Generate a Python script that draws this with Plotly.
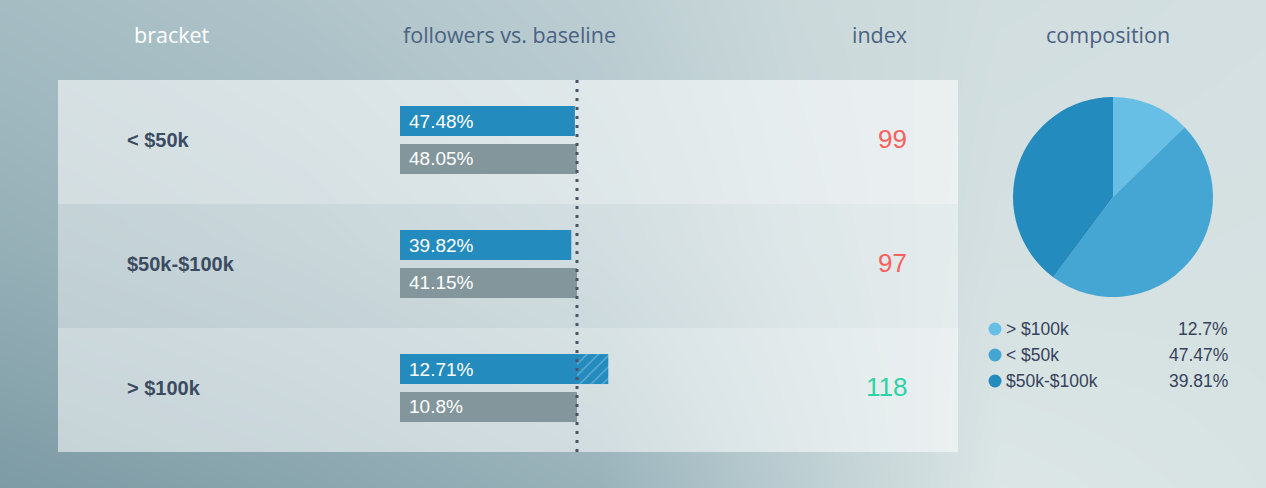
import plotly.graph_objects as go

# ---------------- data ----------------
brackets = ["< $50k", "$50k-$100k", "> $100k"]
followers_pct = [47.48, 39.82, 12.71]
baseline_pct = [48.05, 41.15, 10.8]

comp_labels = ["> $100k", "< $50k", "$50k-$100k"]
comp_pct = [12.7, 47.47, 39.81]
comp_colors = ["#67bfe6", "#45a6d3", "#238bbd"]

headers = ["bracket", "followers vs. baseline", "index", "composition"]

# ---------------- derived ----------------
W, H = 1266, 488
ratio = [f / b for f, b in zip(followers_pct, baseline_pct)]
index_vals = [round(100 * r) for r in ratio]
solid = [min(r, 1.0) for r in ratio]
excess = [max(r - 1.0, 0.0) for r in ratio]
base_norm = [b / b for b in baseline_pct]
rows = list(range(len(brackets)))

BLUE = "#238bbd"
GREY = "#82969c"
HEAD = "#4b6282"
LABEL = "#3b4b60"

# background gradient (styling only)
bg_x = [0, 300, 600, 800, 1000, 1266]
bg_y = [0, 244, 488]
bg_z = [
    [0.40, 0.50, 0.62, 0.76, 0.82, 0.84],
    [0.25, 0.36, 0.52, 0.72, 0.85, 0.86],
    [0.00, 0.12, 0.28, 0.62, 0.92, 0.88],
]

fig = go.Figure()

fig.add_trace(go.Heatmap(
    x=bg_x, y=bg_y, z=bg_z, zmin=0, zmax=1, zsmooth="best",
    colorscale=[[0, "rgb(125,155,165)"], [0.4, "rgb(165,188,195)"], [1, "rgb(228,236,235)"]],
    showscale=False, hoverinfo="skip", xaxis="x", yaxis="y",
))

# bars (x = value relative to baseline)
BW = 0.242
off_f, off_b = -0.169, 0.137
fig.add_trace(go.Bar(
    x=solid, y=[i + off_f for i in rows], orientation="h", width=BW,
    marker=dict(color=BLUE, line=dict(width=0)), xaxis="x2", yaxis="y2", hoverinfo="skip",
))
fig.add_trace(go.Bar(
    x=excess, base=base_norm, y=[i + off_f for i in rows], orientation="h", width=BW,
    marker=dict(color=BLUE, line=dict(width=0),
                pattern=dict(shape="/", size=8, solidity=0.15,
                             fgcolor="rgba(190,225,245,0.9)", bgcolor=BLUE)),
    xaxis="x2", yaxis="y2", hoverinfo="skip",
))
fig.add_trace(go.Bar(
    x=base_norm, y=[i + off_b for i in rows], orientation="h", width=BW,
    marker=dict(color=GREY, line=dict(width=0)), xaxis="x2", yaxis="y2", hoverinfo="skip",
))

# pie
fig.add_trace(go.Pie(
    labels=comp_labels, values=comp_pct, sort=False, direction="clockwise", rotation=0,
    marker=dict(colors=comp_colors, line=dict(width=0)), textinfo="none", hoverinfo="skip",
    domain=dict(x=[1013 / W, 1213 / W], y=[(H - 297) / H, (H - 97) / H]),
    showlegend=False,
))

# legend dots
fig.add_trace(go.Scatter(
    x=[0.04] * len(comp_labels), y=list(range(len(comp_labels))), mode="markers",
    marker=dict(size=13, color=comp_colors), xaxis="x3", yaxis="y3", hoverinfo="skip",
))

X2_RANGE = [(58 - 400) / 177, (958 - 400) / 177]

shapes = []
row_alpha = [0.56, 0.42, 0.54]
for i in rows:
    shapes.append(dict(type="rect", xref="x2", yref="y2", x0=X2_RANGE[0], x1=X2_RANGE[1],
                       y0=i - 0.5, y1=i + 0.5, fillcolor=f"rgba(255,255,255,{row_alpha[i % 3]})",
                       line=dict(width=0), layer="below"))
shapes.append(dict(type="line", xref="x2", yref="y2", x0=1, x1=1, y0=-0.5, y1=len(rows) - 0.5,
                   line=dict(color="#4a5466", width=3, dash="3px,6px"), layer="above"))

ann = []
head_x = [172, 509, 879, 1108]
for t, hx in zip(headers, head_x):
    ann.append(dict(text=t, x=hx / W, y=(H - 34) / H, xref="paper", yref="paper",
                    xanchor="center", yanchor="middle", showarrow=False,
                    font=dict(family="Open Sans", size=21.5,
                              color="white" if t == "bracket" else HEAD)))
for i, name in enumerate(brackets):
    ann.append(dict(text=f"<b>{name}</b>", x=125 / W, y=i, xref="paper", yref="y2",
                    xanchor="left", yanchor="middle", yshift=2, showarrow=False,
                    font=dict(family="Liberation Sans", size=20, color=LABEL)))
    ann.append(dict(text=f"{followers_pct[i]}%", x=0, y=i + off_f, xref="x2", yref="y2",
                    xanchor="left", yanchor="middle", xshift=7, showarrow=False,
                    font=dict(family="Liberation Sans", size=19, color="white")))
    ann.append(dict(text=f"{baseline_pct[i]}%", x=0, y=i + off_b, xref="x2", yref="y2",
                    xanchor="left", yanchor="middle", xshift=7, showarrow=False,
                    font=dict(family="Liberation Sans", size=19, color="white")))
    ann.append(dict(text=str(index_vals[i]), x=909 / W, y=i, xref="paper", yref="y2",
                    xanchor="right", yanchor="middle", yshift=3, showarrow=False,
                    font=dict(family="Liberation Sans", size=26,
                              color="#f9605c" if index_vals[i] < 100 else "#2dd3a4")))
for j, (lab, p) in enumerate(zip(comp_labels, comp_pct)):
    ann.append(dict(text=lab, x=0.076, y=j, xref="x3", yref="y3", xanchor="left",
                    yanchor="middle", showarrow=False,
                    font=dict(family="Liberation Sans", size=17.5, color="#36425a")))
    ann.append(dict(text=f"{p}%", x=0.98, y=j, xref="x3", yref="y3", xanchor="right",
                    yanchor="middle", showarrow=False,
                    font=dict(family="Liberation Sans", size=17.5, color="#36425a")))

hidden = dict(visible=False, showgrid=False, zeroline=False, fixedrange=True)
fig.update_layout(
    width=W, height=H, margin=dict(l=0, r=0, t=0, b=0),
    paper_bgcolor="rgb(190,205,208)", plot_bgcolor="rgba(0,0,0,0)",
    showlegend=False, barmode="overlay",
    xaxis=dict(domain=[0, 1], range=[0, W], **hidden),
    yaxis=dict(domain=[0, 1], range=[H, 0], **hidden),
    xaxis2=dict(domain=[58 / W, 958 / W], range=X2_RANGE, anchor="y2", **hidden),
    yaxis2=dict(domain=[(H - 452) / H, (H - 80) / H], range=[len(rows) - 0.5, -0.5],
                anchor="x2", **hidden),
    xaxis3=dict(domain=[985 / W, 1235 / W], range=[0, 1], anchor="y3", **hidden),
    yaxis3=dict(domain=[(H - 394) / H, (H - 316) / H], range=[2.5, -0.5], anchor="x3", **hidden),
    shapes=shapes, annotations=ann,
)

fig.write_html("out.html")
